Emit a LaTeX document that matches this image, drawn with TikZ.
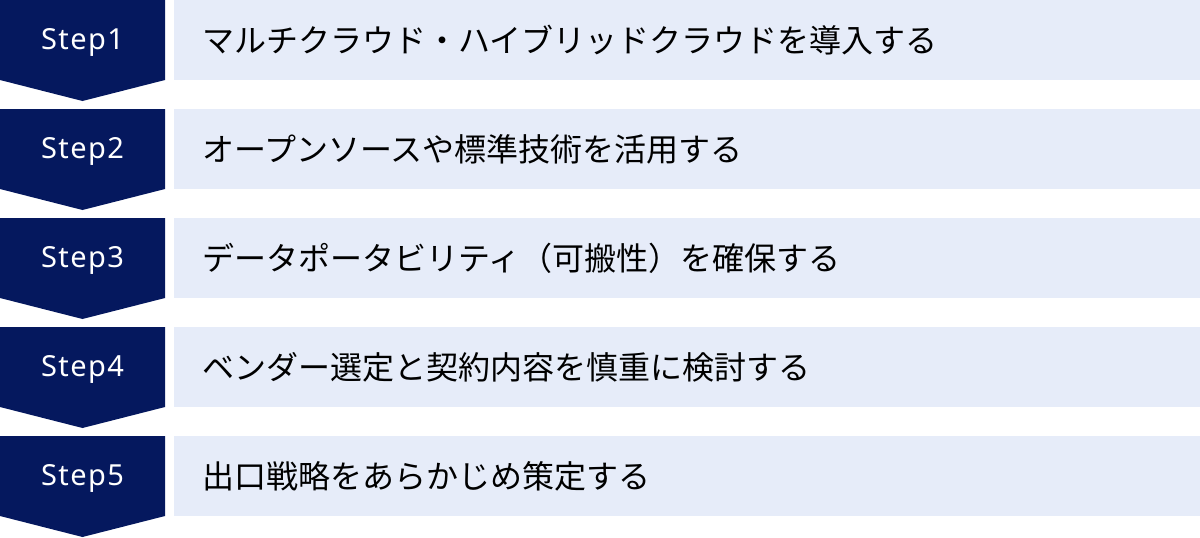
\documentclass[tikz,border=0pt]{standalone}
\usepackage{fontspec}
\setmainfont{Noto Sans CJK JP}
\newfontfamily\stepfont[LetterSpace=5]{Noto Sans}
\usepackage{tikz}
\definecolor{stepnavy}{HTML}{05185E}
\definecolor{rowblue}{HTML}{E6ECF9}
\tikzset{
  steplabel/.style={text=white, font=\stepfont\fontsize{29}{32}\selectfont, inner sep=0pt},
  steptext/.style={text=black, font=\fontsize{32}{36}\selectfont, anchor=west, inner sep=0pt}
}
\newcommand{\steprow}[3]{ \fill[stepnavy] (0, #1) -- (165, #1) -- (165, #1 + 80) -- (82.5, #1 + 101) -- (0, #1 + 80) -- cycle; \fill[rowblue] (174, #1) rectangle (1200, #1 + 80); \node[steplabel] (s#2) at (82.5, #1 + 42) {Step#2}; \node[steptext] (t#2) at (202, #1 + 40) {#3};}

\begin{document}
\begin{tikzpicture}[x=1pt,y=-1pt]
        \useasboundingbox (0,0) rectangle (1200,538);
        % step1
        \steprow{0}{1}{マルチクラウド・ハイブリッドクラウドを導入する}
        % step2
        \steprow{109}{2}{オープンソースや標準技術を活用する}
        % step3
        \steprow{218}{3}{データポータビリティ（可搬性）を確保する}
        % step4
        \steprow{327}{4}{ベンダー選定と契約内容を慎重に検討する}
        % step5
        \steprow{436}{5}{出口戦略をあらかじめ策定する}
    \end{tikzpicture}
\end{document}
